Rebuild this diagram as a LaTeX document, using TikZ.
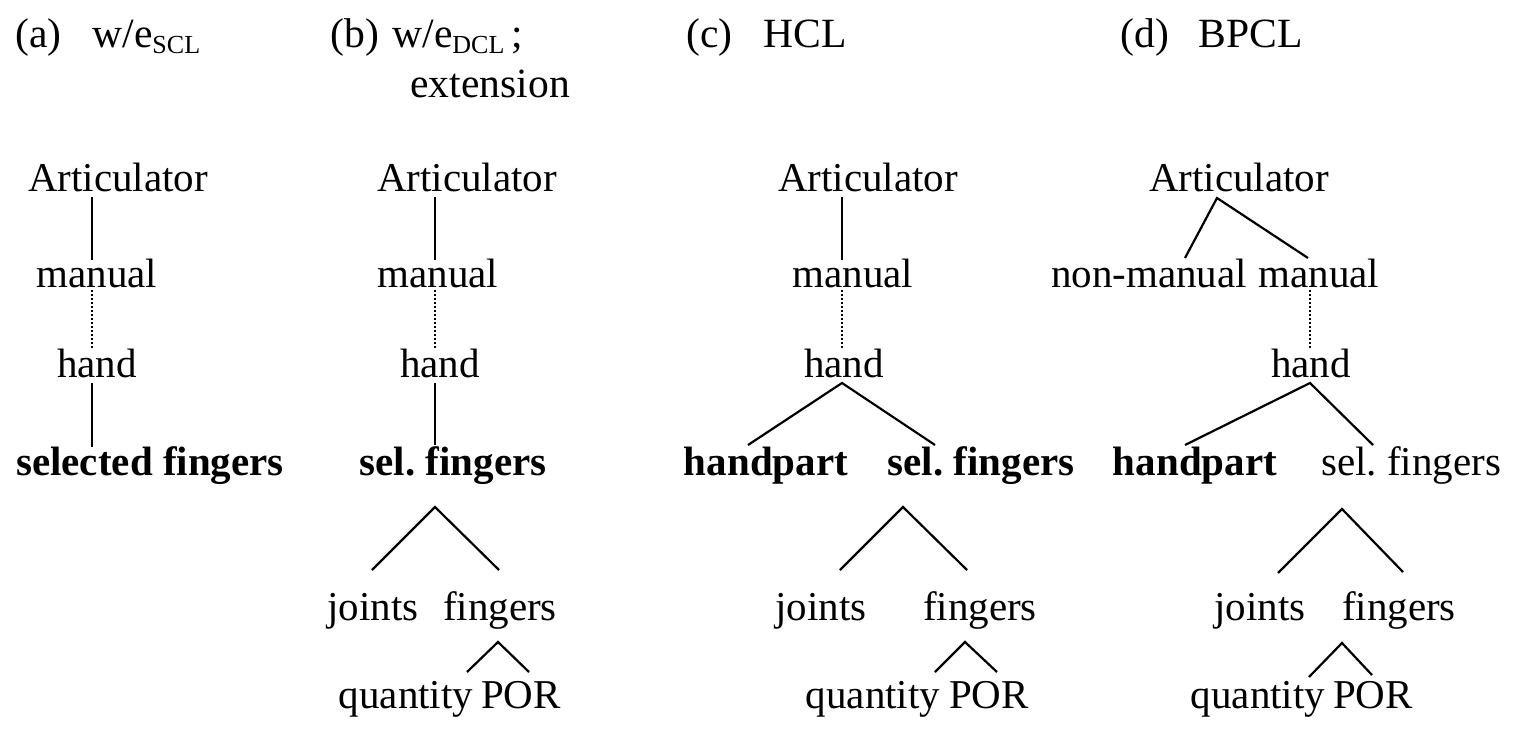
\documentclass[tikz,border=0pt]{standalone}
\usepackage{fontspec}
\setmainfont{Liberation Serif}
\usetikzlibrary{calc}
\newcommand\mysub[1]{\raisebox{-3pt}{\fontsize{13}{13}\selectfont #1}}
\begin{document}
\begin{tikzpicture}[x=0.5pt,y=-0.5pt,
  lbl/.style={anchor=base,inner sep=0pt,font=\fontsize{20.5}{24}\selectfont},
  blbl/.style={lbl,font=\fontsize{20.5}{24}\selectfont\bfseries},
  ttl/.style={anchor=base west,inner sep=0pt,font=\fontsize{20.8}{24}\selectfont},
  edge/.style={line width=1.1pt},
  dotedge/.style={line width=0.7pt,dash pattern=on 1pt off 1pt}]
\useasboundingbox (0,0) rectangle (1528,745);
% titles
\node[ttl] (ta) at (15,47) {(a)};
\node[ttl] (tat) at (92,47) {w/e\mysub{SCL}};
\node[ttl] (tb) at (330,47) {(b)};
\node[ttl] (tbt) at (392,47) {w/e\mysub{DCL}\,;};
\node[ttl] (tbe) at (410,97) {extension};
\node[ttl] (tc) at (686,47) {(c)};
\node[ttl] (tct) at (763,47) {HCL};
\node[ttl] (td) at (1120,47) {(d)};
\node[ttl] (tdt) at (1198,47) {BPCL};
% (a)
\node[lbl] (aA) at (118,191) {Articulator};
\node[lbl] (aM) at (97,287) {manual};
\node[lbl] (aH) at (97,377) {hand};
\node[blbl] (aS) at (150,475) {selected fingers};
\draw[edge] ($(aA.base)+(-26,6)$) -- ($(aM.base)+(-5,-27)$);
\draw[dotedge] ($(aM.base)+(-5,3)$) -- ($(aH.base)+(-5,-27)$);
\draw[edge] ($(aH.base)+(-5,6)$) -- ($(aS.base)+(-58,-28)$);
% (b)
\node[lbl] (bA) at (467,191) {Articulator};
\node[lbl] (bM) at (438,287) {manual};
\node[lbl] (bH) at (440,377) {hand};
\node[blbl] (bS) at (453,475) {sel.\ fingers};
\node[lbl] (bJ) at (373,620) {joints};
\node[lbl] (bF) at (500,620) {fingers};
\node[lbl] (bQ) at (406,708) {quantity};
\node[lbl] (bP) at (521,708) {POR};
\draw[edge] ($(bA.base)+(-32,6)$) -- ($(bM.base)+(-3,-27)$);
\draw[dotedge] ($(bM.base)+(-3,3)$) -- ($(bH.base)+(-5,-27)$);
\draw[edge] ($(bH.base)+(-5,6)$) -- ($(bS.base)+(-18,-30)$);
\draw[edge] ($(bJ.base)+(-1,-50)$) -- ($(bS.base)+(-18,32)$) -- ($(bF.base)+(-1,-50)$);
\draw[edge] ($(bQ.base)+(61,-36)$) -- ($(bF.base)+(-2,22)$) -- ($(bP.base)+(8,-36)$);
% (c)
\node[lbl] (cA) at (868,191) {Articulator};
\node[lbl] (cM) at (853,287) {manual};
\node[lbl] (cH) at (844,377) {hand};
\node[blbl] (cHp) at (766,475) {handpart};
\node[blbl] (cS) at (981,475) {sel.\ fingers};
\node[lbl] (cJ) at (821,620) {joints};
\node[lbl] (cF) at (980,620) {fingers};
\node[lbl] (cQ) at (873,708) {quantity};
\node[lbl] (cP) at (989,708) {POR};
\draw[edge] ($(cA.base)+(-26,6)$) -- ($(cM.base)+(-11,-27)$);
\draw[dotedge] ($(cM.base)+(-11,3)$) -- ($(cH.base)+(-2,-27)$);
\draw[edge] ($(cHp.base)+(-18,-30)$) -- ($(cH.base)+(-2,6)$) -- ($(cS.base)+(-46,-30)$);
\draw[edge] ($(cJ.base)+(19,-50)$) -- ($(cS.base)+(-78,32)$) -- ($(cF.base)+(-13,-50)$);
\draw[edge] ($(cQ.base)+(62,-36)$) -- ($(cF.base)+(-15,22)$) -- ($(cP.base)+(8,-36)$);
% (d)
\node[lbl] (dA) at (1239,191) {Articulator};
\node[lbl] (dN) at (1149,287) {non-manual};
\node[lbl] (dM) at (1319,287) {manual};
\node[lbl] (dH) at (1311,377) {hand};
\node[blbl] (dHp) at (1195,475) {handpart};
\node[lbl] (dS) at (1411,475) {sel.\ fingers};
\node[lbl] (dJ) at (1260,620) {joints};
\node[lbl] (dF) at (1399,620) {fingers};
\node[lbl] (dQ) at (1258,708) {quantity};
\node[lbl] (dP) at (1373,708) {POR};
\draw[edge] ($(dN.base)+(36,-29)$) -- ($(dA.base)+(-22,7)$) -- ($(dM.base)+(-11,-29)$);
\draw[dotedge] ($(dM.base)+(-9,3)$) -- ($(dH.base)+(-1,-27)$);
\draw[edge] ($(dHp.base)+(-10,-30)$) -- ($(dH.base)+(-1,6)$) -- ($(dS.base)+(-38,-30)$);
\draw[edge] ($(dJ.base)+(18,-47)$) -- ($(dS.base)+(-69,34)$) -- ($(dF.base)+(4,-48)$);
\draw[edge] ($(dQ.base)+(51,-31)$) -- ($(dF.base)+(-57,23)$) -- ($(dP.base)+(-1,-33)$);
\end{tikzpicture}
\end{document}
